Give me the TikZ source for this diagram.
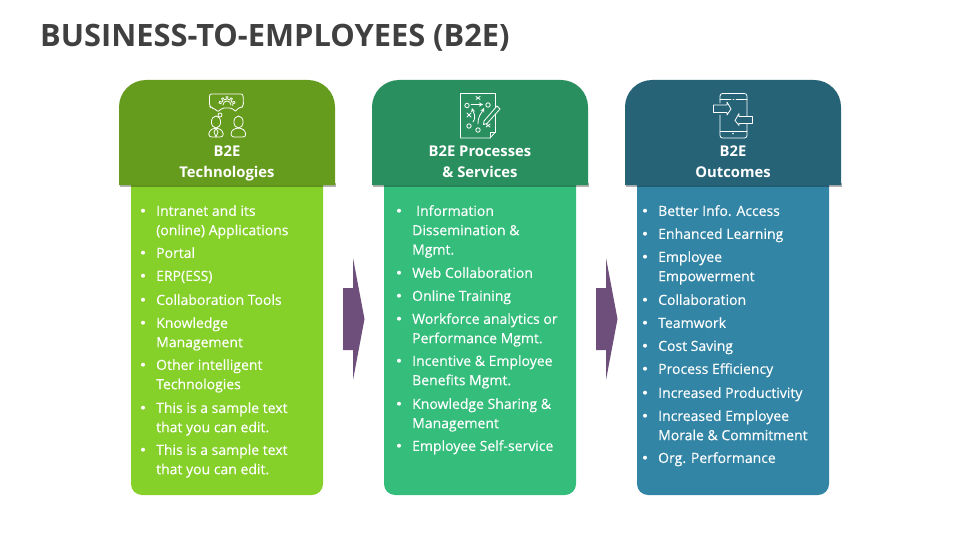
\documentclass[tikz,border=0pt]{standalone}
\usepackage{fontspec}
\setmainfont{Open Sans}
\newfontfamily\itemfont[FakeBold=0.25]{Open Sans}
\definecolor{headA}{HTML}{669C1E}
\definecolor{bodyA}{HTML}{86D02A}
\definecolor{headB}{HTML}{2A8F5F}
\definecolor{bodyB}{HTML}{35BD7C}
\definecolor{headC}{HTML}{266377}
\definecolor{bodyC}{HTML}{3385A6}
\definecolor{arrowcol}{HTML}{6E4E7A}
\definecolor{titlecol}{HTML}{404040}
\tikzset{
  headtext/.style={text=white,font=\fontsize{14.8}{21}\selectfont\bfseries,align=center},
  itemtext/.style={text=white,font=\itemfont\fontsize{14}{19.3}\selectfont,align=left,anchor=north west,inner sep=0pt},
  icon/.style={draw=white,line width=0.8pt,line join=round,line cap=round},
}
% one list entry: name, x, y of first baseline, text
\newcommand{\listentry}[4]{
  \node[itemtext] (#1) at (#2,#3-14.3) {\rule{0pt}{14pt}#4};
  \fill[white] (#2-13,#3-5.3) circle (2);
}
% header, its shadow and the body of one column
\newcommand{\column}[3]{
  \fill[#3,rounded corners=11] (#1+12,170) -- (#1+12,495) -- (#1+204,495) -- (#1+204,170) -- cycle;
  \fill[black,opacity=0.3] (#1+0.5,183) rectangle (#1+216.5,187);
  \fill[#2,rounded corners=27] (#1,185) [sharp corners] -- (#1,150) [rounded corners=27] -- (#1,80) -- (#1+216,80) -- (#1+216,150) [sharp corners] -- (#1+216,185) -- cycle;
}
\begin{document}
\begin{tikzpicture}[x=1pt,y=-1pt]
  \useasboundingbox (0,0) rectangle (960,540);

  % Title
  \node[anchor=base west,inner sep=0pt,text=titlecol,font=\fontsize{30.8}{36}\selectfont\bfseries] (title) at (40,46.5) {BUSINESS-TO-EMPLOYEES (B2E)};

  % The three columns
  \column{119}{headA}{bodyA}
  \column{372}{headB}{bodyB}
  \column{625}{headC}{bodyC}

  \node[headtext] (titleA) at (227,163) {B2E\\Technologies};
  \node[headtext] (titleB) at (480,162) {B2E Processes\\\& Services};
  \node[headtext] (titleC) at (733,162) {B2E\\Outcomes};

  % The arrows between them
  \fill[arrowcol] (343,288) -- (353,288) -- (353,258) -- (364.5,319) -- (353,380) -- (353,350) -- (343,350) -- cycle;
  \fill[arrowcol] (596,288) -- (606,288) -- (606,258) -- (617.5,319) -- (606,380) -- (606,350) -- (596,350) -- cycle;

  % First list
  \listentry{a1}{156}{216}{Intranet and its\\(online) Applications}
  \listentry{a2}{156}{258}{Portal}
  \listentry{a3}{156}{281}{ERP(ESS)}
  \listentry{a4}{156}{305}{Collaboration Tools}
  \listentry{a5}{156}{328}{Knowledge\\Management}
  \listentry{a6}{156}{370}{Other intelligent\\Technologies}
  \listentry{a7}{156}{413}{This is a sample text\\that you can edit.}
  \listentry{a8}{156}{455}{This is a sample text\\that you can edit.}

  % Second list
  \listentry{b1}{412}{216}{\hspace*{4pt}Information\\Dissemination \&\\Mgmt.}
  \listentry{b2}{412}{278}{Web Collaboration}
  \listentry{b3}{412}{301}{Online Training}
  \listentry{b4}{412}{324}{Workforce analytics or\\Performance Mgmt.}
  \listentry{b5}{412}{366}{Incentive \& Employee\\Benefits Mgmt.}
  \listentry{b6}{412}{409}{Knowledge Sharing \&\\Management}
  \listentry{b7}{412}{451}{Employee Self-service}

  % Third list
  \listentry{c1}{658}{216}{Better Info. Access}
  \listentry{c2}{658}{239}{Enhanced Learning}
  \listentry{c3}{658}{262}{Employee\\Empowerment}
  \listentry{c4}{658}{305}{Collaboration}
  \listentry{c5}{658}{328}{Teamwork}
  \listentry{c6}{658}{351}{Cost Saving}
  \listentry{c7}{658}{374}{Process Efficiency}
  \listentry{c8}{658}{398}{Increased Productivity}
  \listentry{c9}{658}{421}{Increased Employee\\Morale \& Commitment}
  \listentry{c10}{658}{463}{Org. Performance}

  % Icon: two people and a speech bubble
  \draw[icon,rounded corners=2] (214,108) -- (211,108) -- (209.5,106) -- (209.5,94) -- (243,94) -- (243.5,106) -- (241,108) -- (237,108) -- (236,112) -- (232,108) -- (222,108) -- (218,112) -- cycle;
  \draw[icon] (223,105) arc (180:360:4);
  \foreach \a in {200,235,270,305,340}
    \draw[icon,shift={(227,105)}] (\a-8:5.8) -- (\a-6:8.3) -- (\a+6:8.3) -- (\a+8:5.8) -- (\a+27:5.8);
  \draw[icon] (216,122) ellipse (4.6 and 6);
  \draw[icon] (238.5,122) ellipse (4.6 and 6);
  \draw[icon] (220,115) circle (2);
  \draw[icon,rounded corners=3] (208.5,137) -- (209,131) -- (214,128) -- (218,128) -- (223,131) -- (223.5,137) -- cycle;
  \draw[icon,rounded corners=3] (231,137) -- (231,131) -- (236,128) -- (241,128) -- (245.5,131) -- (246,137) -- cycle;
  \draw[icon] (216,128) -- (214,132) -- (216,137) -- (218,132) -- cycle;

  % Icon: paper with a game plan and a pencil
  \draw[icon] (490,138) -- (460.5,138) -- (460.5,93.5) -- (495.5,93.5) -- (495.5,132) -- cycle;
  \draw[icon] (490,138) -- (490,132) -- (495.5,132);
  \draw[icon] (467,105.5) circle (2.2) (488,105) circle (2.2) (469,126) circle (2.2) (478,130) circle (2.2);
  \draw[icon] (476,96.5) -- (480,99.5) (480,96.5) -- (476,99.5);
  \draw[icon] (467,113) -- (471,117) (471,113) -- (467,117);
  \draw[icon] (486,124) -- (490,127) (490,124) -- (486,127);
  \draw[icon,->,>=stealth] (471,104.5) -- (483,104.5);
  \draw[icon,->,>=stealth] (473,122) .. controls (477,116) and (473,112) .. (472,108);
  \draw[icon,->,>=stealth] (478,124) .. controls (478,116) and (481,114) .. (484,108);
  \fill[headB] (484,121) -- (497,106) -- (500,109) -- (487,123.5) -- (483.5,124.5) -- cycle;
  \draw[icon] (484,121) -- (497,106) -- (500,109) -- (487,123.5) -- (483.5,124.5) -- cycle;

  % Icon: phone with two arrows
  \draw[icon,rounded corners=2.5] (720,103) -- (720,93.5) -- (747,93.5) -- (747,138) -- (720,138) -- (720,115);
  \draw[icon] (720,99.5) -- (731,99.5) (733,99.5) -- (734,99.5) (736,99.5) -- (747,99.5);
  \draw[icon] (720,131) -- (747,131);
  \fill[white] (733,133.5) circle (0.9);
  \fill[headC] (713.5,105) -- (727,105) -- (727,102) -- (731,109) -- (727,115) -- (727,112.5) -- (713.5,112.5) -- cycle;
  \draw[icon] (713.5,105) -- (727,105) -- (727,102) -- (731,109) -- (727,115) -- (727,112.5) -- (713.5,112.5) -- cycle;
  \fill[headC] (752.5,116.5) -- (739,116.5) -- (739,113.5) -- (735,120.5) -- (739,125.5) -- (739,123.5) -- (752.5,123.5) -- cycle;
  \draw[icon] (752.5,116.5) -- (739,116.5) -- (739,113.5) -- (735,120.5) -- (739,125.5) -- (739,123.5) -- (752.5,123.5) -- cycle;
\end{tikzpicture}
\end{document}
